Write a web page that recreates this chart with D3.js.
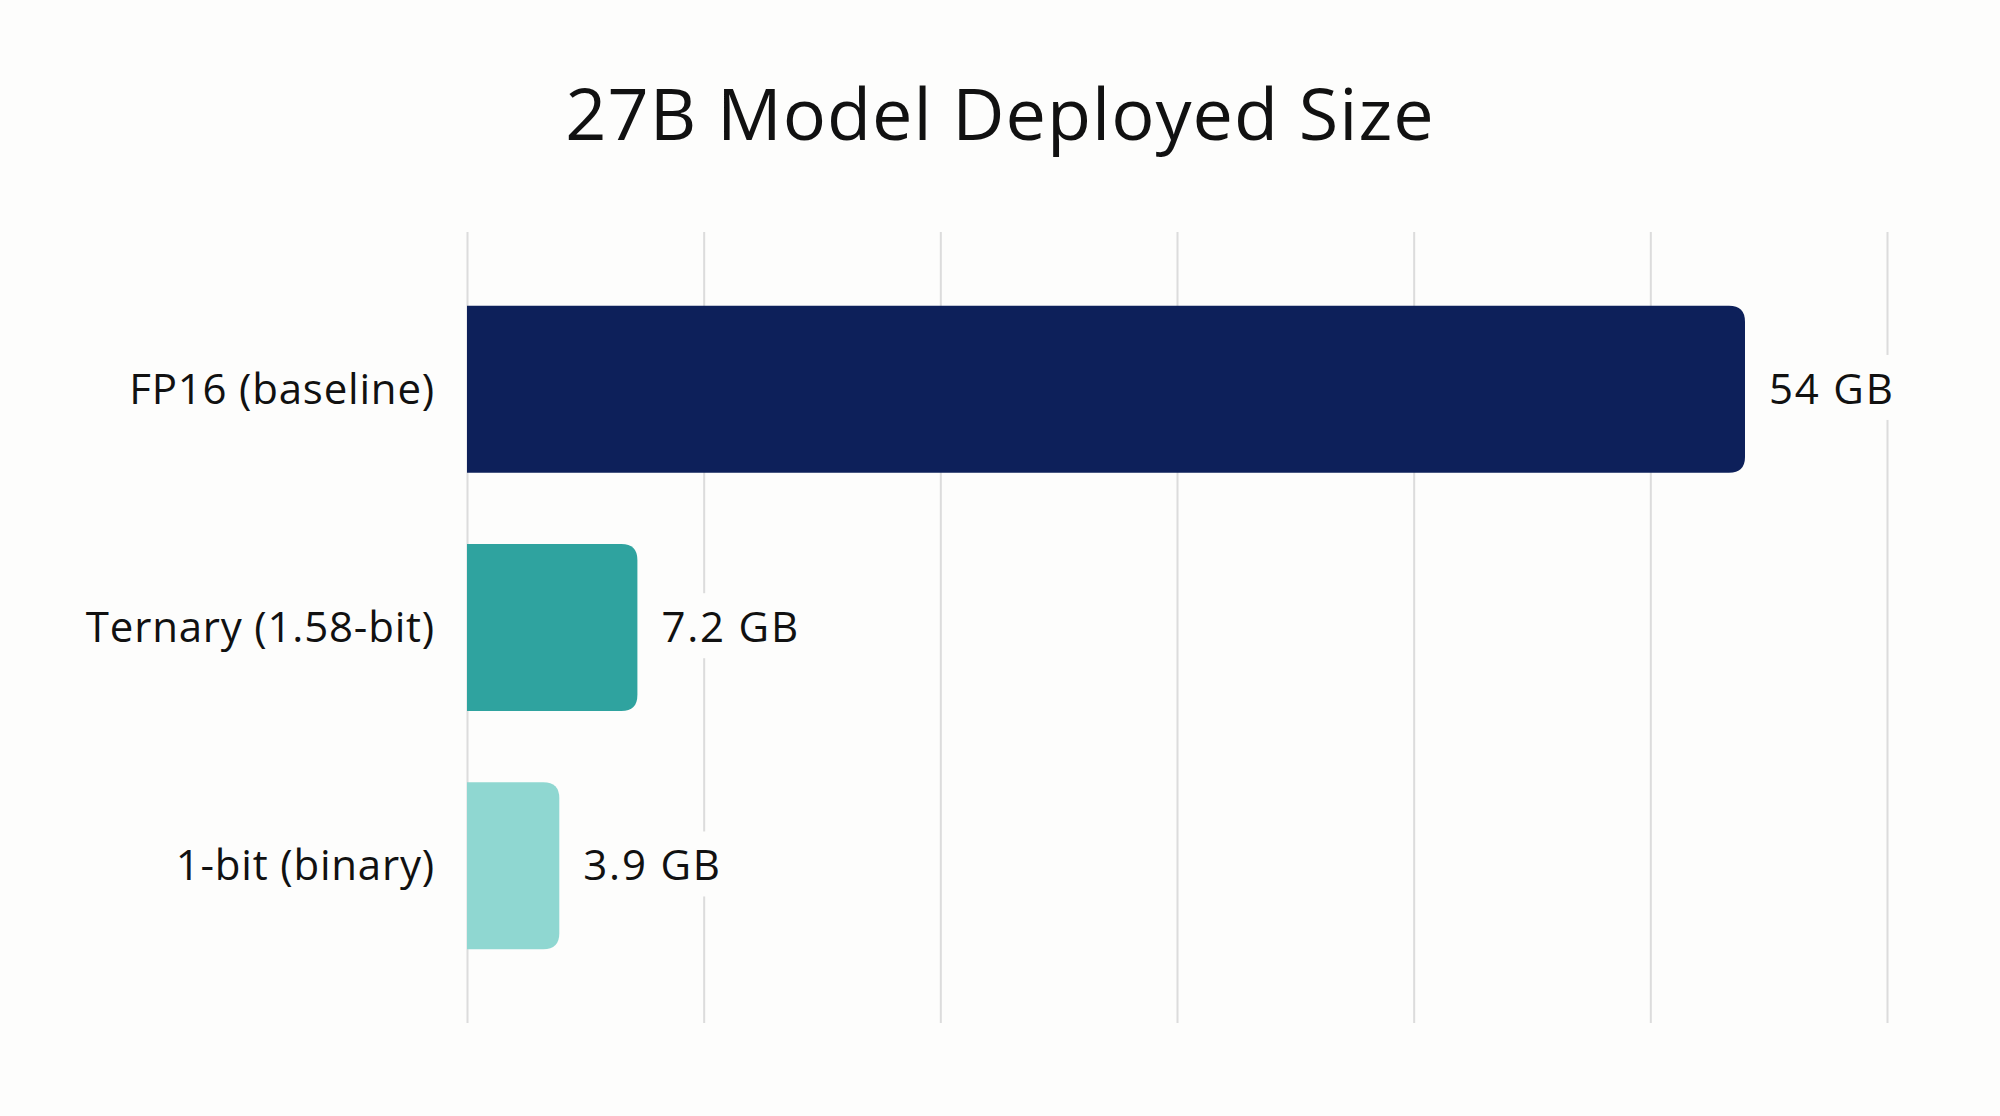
<!DOCTYPE html>
<html>
<head>
<meta charset="utf-8">
<script src="https://cdn.jsdelivr.net/npm/d3@7"></script>
<style>
  html, body { margin: 0; padding: 0; background: #fdfdfc; }
  text { font-family: "Open Sans", sans-serif; fill: #111; }
</style>
</head>
<body>
<div class="barchart"></div>
<script>
var svgWidth = 2000;
var svgHeight = 1116;

// data
var categories = ["FP16 (baseline)", "Ternary (1.58-bit)", "1-bit (binary)"];
var sizesGB = [54, 7.2, 3.9];
var valueLabels = ["54 GB", "7.2 GB", "3.9 GB"];
var barColors = ["#0d205a", "#2fa39f", "#8fd7d1"];
var gridTicks = [0, 10, 20, 30, 40, 50, 60];

var plot = { left: 467, right: 1887, top: 232, bottom: 1023 };

var svg = d3.select(".barchart")
  .append("svg")
  .attr("width", svgWidth)
  .attr("height", svgHeight);

svg.append("rect")
  .attr("width", svgWidth)
  .attr("height", svgHeight)
  .attr("fill", "#fdfdfc");

var xScale = d3.scaleLinear()
  .domain([0, 60])
  .range([plot.left, plot.right]);

var yScale = d3.scaleBand()
  .domain(categories)
  .range([plot.top, plot.bottom])
  .paddingInner(0.3)
  .paddingOuter(0.31);

// title
svg.append("text")
  .attr("x", svgWidth / 2)
  .attr("y", 140)
  .attr("text-anchor", "middle")
  .attr("font-size", 72)
  .attr("letter-spacing", 1)
  .text("27B Model Deployed Size");

// vertical gridlines
var gridAxis = d3.axisBottom(xScale)
  .tickValues(gridTicks)
  .tickSize(plot.bottom - plot.top)
  .tickFormat("");

var grid = svg.append("g")
  .attr("transform", `translate(0, ${plot.top})`)
  .call(gridAxis);
grid.select(".domain").remove();
grid.selectAll(".tick line")
  .attr("stroke", "#dcdcdc")
  .attr("stroke-width", 2);

// bars: square on the left, rounded on the right
var radius = 16;
function barPath(d, i) {
  var x0 = xScale(0), x1 = xScale(d);
  var y0 = yScale(categories[i]), y1 = y0 + yScale.bandwidth();
  var r = Math.min(radius, (x1 - x0) / 2);
  return `M${x0},${y0}H${x1 - r}Q${x1},${y0} ${x1},${y0 + r}V${y1 - r}Q${x1},${y1} ${x1 - r},${y1}H${x0}Z`;
}

svg.append("g")
  .selectAll("path")
  .data(sizesGB)
  .enter()
  .append("path")
  .attr("d", barPath)
  .attr("fill", (d, i) => barColors[i]);

// category labels
svg.append("g")
  .selectAll("text")
  .data(categories)
  .enter()
  .append("text")
  .attr("x", plot.left - 32)
  .attr("y", d => yScale(d) + yScale.bandwidth() / 2)
  .attr("dy", "0.35em")
  .attr("text-anchor", "end")
  .attr("font-size", 42)
  .attr("letter-spacing", 0.8)
  .text(d => d);

// value labels with a white backing box
var valueGroup = svg.append("g");
sizesGB.forEach(function(d, i) {
  var g = valueGroup.append("g");
  var t = g.append("text")
    .attr("x", xScale(d) + 24)
    .attr("y", yScale(categories[i]) + yScale.bandwidth() / 2)
    .attr("dy", "0.35em")
    .attr("font-size", 42)
    .attr("letter-spacing", 1.8)
    .text(valueLabels[i]);
  var bb = t.node().getBBox();
  g.insert("rect", "text")
    .attr("x", bb.x - 6)
    .attr("y", bb.y - 4)
    .attr("width", bb.width + 12)
    .attr("height", bb.height + 8)
    .attr("fill", "#fdfdfc");
});
</script>
</body>
</html>
